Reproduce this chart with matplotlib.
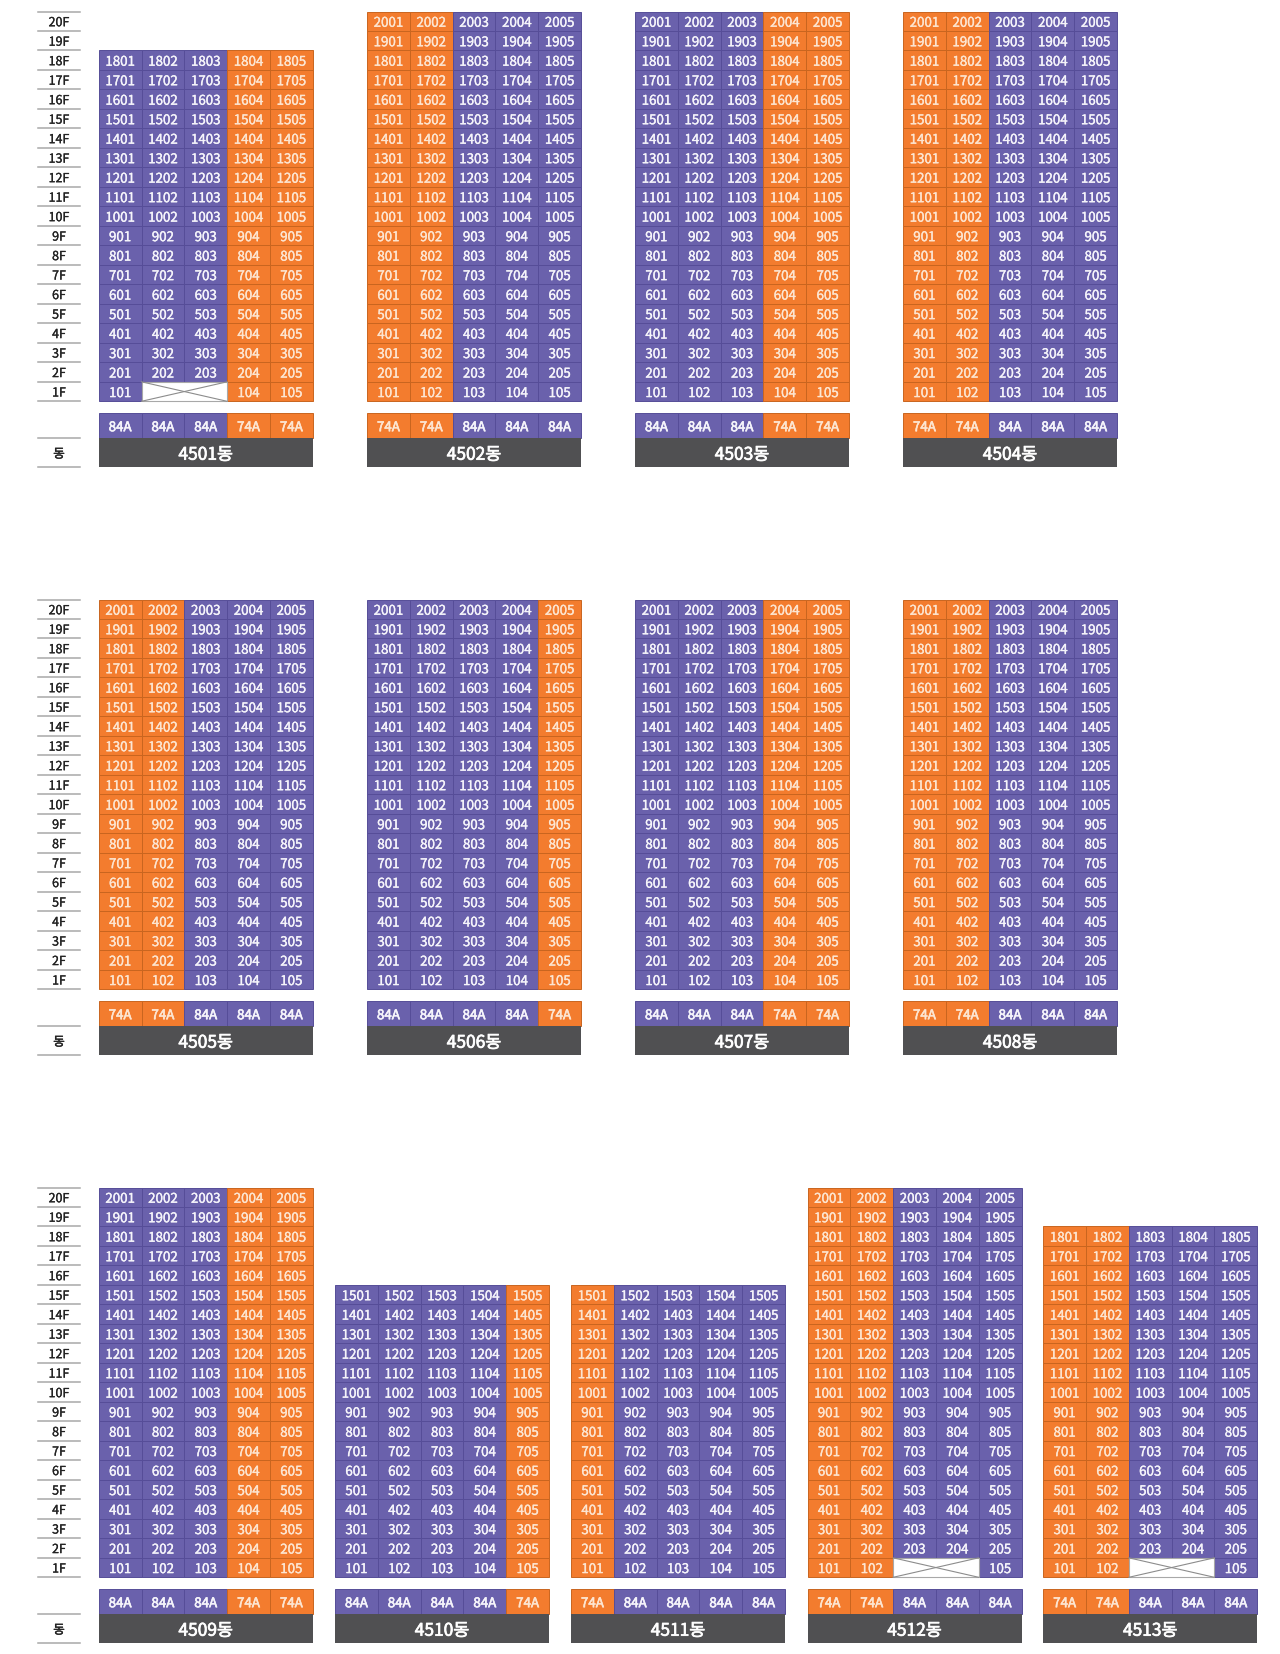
import matplotlib
matplotlib.use("Agg")
import matplotlib.pyplot as plt
import matplotlib.patheffects as pe

plt.rcParams["font.family"] = ["Noto Sans CJK KR", "DejaVu Sans"]

# building data, one list per property
BUILDINGS = ["4501동", "4502동", "4503동", "4504동",
             "4505동", "4506동", "4507동", "4508동",
             "4509동", "4510동", "4511동", "4512동", "4513동"]
TOP_FLOORS = [18, 20, 20, 20,
              20, 20, 20, 20,
              20, 15, 15, 20, 18]
UNIT_TYPES = [
    ["84A", "84A", "84A", "74A", "74A"],
    ["74A", "74A", "84A", "84A", "84A"],
    ["84A", "84A", "84A", "74A", "74A"],
    ["74A", "74A", "84A", "84A", "84A"],
    ["74A", "74A", "84A", "84A", "84A"],
    ["84A", "84A", "84A", "84A", "74A"],
    ["84A", "84A", "84A", "74A", "74A"],
    ["74A", "74A", "84A", "84A", "84A"],
    ["84A", "84A", "84A", "74A", "74A"],
    ["84A", "84A", "84A", "84A", "74A"],
    ["74A", "84A", "84A", "84A", "84A"],
    ["74A", "74A", "84A", "84A", "84A"],
    ["74A", "74A", "84A", "84A", "84A"],
]
# units missing on the 1st floor (piloti)
EMPTY_UNITS = {"4501동": [102, 103], "4512동": [103, 104], "4513동": [103, 104]}
MAX_FLOORS = 20
UNITS_PER_FLOOR = 5

# layout in image pixels
W, H = 1280, 1654
ROW_TOPS = [11.5, 599.5, 1187.5]
BLOCK_X = [98.7, 367, 635, 903,
           98.7, 367, 635, 903,
           98.7, 335, 571, 807.5, 1043.2]
BLOCK_ROW = [0, 0, 0, 0, 1, 1, 1, 1, 2, 2, 2, 2, 2]
CELL_W = 42.8
CELL_H = 19.49
TYPE_GAP = 12
TYPE_H = 24.8
NAME_H = 29.2
LABEL_X0, LABEL_X1 = 38, 80

PURPLE = "#6a61ac"
ORANGE = "#f37c2e"
DARK = "#505052"
PURPLE_EDGE = "#564d98"
ORANGE_EDGE = "#c9651f"
RULE = "#a8a8a8"
TYPE_COLORS = {"84A": PURPLE, "74A": ORANGE}
EDGE_COLORS = {"84A": PURPLE_EDGE, "74A": ORANGE_EDGE}
TEXT_COLORS = {"84A": "#f6f5fb", "74A": "#fde6d2"}


def put_text(ax, x, y, label, color, size, stroke):
    # the CJK font only has regular/bold here, a thin stroke gives the medium look
    ax.text(x, y, label, color=color, fontsize=size, ha="center", va="center_baseline",
            path_effects=[pe.withStroke(linewidth=stroke, foreground=color)])


def draw_cell(ax, x, y, w, h, label, unit_type, size=9.6, stroke=0.25):
    ax.bar(x, h, w, bottom=y, align="edge", color=TYPE_COLORS[unit_type],
           edgecolor=EDGE_COLORS[unit_type], linewidth=0.7)
    put_text(ax, x + w / 2, y + h / 2, label, TEXT_COLORS[unit_type], size, stroke)


def draw_empty(ax, x, y, w, h):
    ax.bar(x, h, w, bottom=y, align="edge", color="white", edgecolor=RULE, linewidth=0.8)
    ax.plot([x, x + w], [y, y + h], color="#8c8c8c", lw=0.8)
    ax.plot([x, x + w], [y + h, y], color="#8c8c8c", lw=0.8)


def draw_building(ax, x, row_top, name, top_floor, types):
    empty = EMPTY_UNITS.get(name, [])
    for floor in range(top_floor, 0, -1):
        y = row_top + (MAX_FLOORS - floor) * CELL_H
        for i, unit_type in enumerate(types):
            unit = floor * 100 + i + 1
            if unit not in empty:
                draw_cell(ax, x + i * CELL_W, y, CELL_W, CELL_H, str(unit), unit_type)
    if empty:
        y = row_top + (MAX_FLOORS - 1) * CELL_H
        first = min(empty) % 100 - 1
        draw_empty(ax, x + first * CELL_W, y, len(empty) * CELL_W, CELL_H)

    type_y = row_top + MAX_FLOORS * CELL_H + TYPE_GAP
    for i, unit_type in enumerate(types):
        draw_cell(ax, x + i * CELL_W, type_y, CELL_W, TYPE_H, unit_type, unit_type, size=9.6, stroke=0.45)

    block_w = CELL_W * UNITS_PER_FLOOR
    name_y = type_y + TYPE_H
    ax.bar(x, NAME_H, block_w, bottom=name_y, align="edge", color=DARK, linewidth=0)
    put_text(ax, x + block_w / 2, name_y + NAME_H / 2, name, "white", 12.5, 0.5)


def draw_floor_labels(ax, row_top):
    mid = (LABEL_X0 + LABEL_X1) / 2
    for floor in range(MAX_FLOORS, 0, -1):
        y = row_top + (MAX_FLOORS - floor) * CELL_H
        ax.plot([LABEL_X0, LABEL_X1], [y, y], color=RULE, lw=1.1)
        put_text(ax, mid, y + CELL_H / 2, f"{floor}F", "#222222", 9.0, 0.2)
    bottom = row_top + MAX_FLOORS * CELL_H
    ax.plot([LABEL_X0, LABEL_X1], [bottom, bottom], color=RULE, lw=1.1)
    name_y = bottom + TYPE_GAP + TYPE_H
    ax.plot([LABEL_X0, LABEL_X1], [name_y, name_y], color=RULE, lw=1.1)
    ax.plot([LABEL_X0, LABEL_X1], [name_y + NAME_H, name_y + NAME_H], color=RULE, lw=1.1)
    put_text(ax, mid, name_y + NAME_H / 2, "동", "#222222", 9.0, 0.3)


fig = plt.figure(figsize=(W / 100, H / 100), dpi=100)
ax = fig.add_axes([0, 0, 1, 1])
ax.set_xlim(0, W)
ax.set_ylim(H, 0)
ax.axis("off")

for row_top in ROW_TOPS:
    draw_floor_labels(ax, row_top)

for name, top_floor, types, x, row in zip(BUILDINGS, TOP_FLOORS, UNIT_TYPES, BLOCK_X, BLOCK_ROW):
    draw_building(ax, x, ROW_TOPS[row], name, top_floor, types)

fig.savefig("out.png", dpi=100, facecolor="white")
